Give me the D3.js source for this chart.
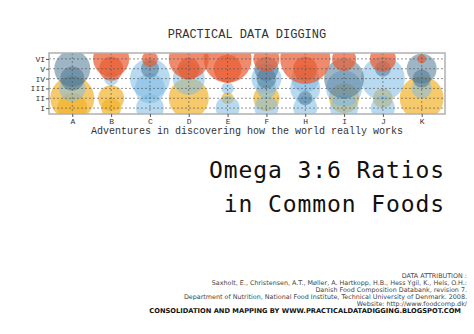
<!DOCTYPE html>
<html><head><meta charset="utf-8">
<script src="https://cdn.jsdelivr.net/npm/d3@7"></script>
<style>
html,body{margin:0;padding:0;background:#fff;}
svg{display:block;}
</style></head>
<body>
<script>
// ---- data ----
const categories = ["A","B","C","D","E","F","H","I","J","K"];
const levels = ["I","II","III","IV","V","VI"];
// [category, level, value]
const orangeSeries = [["B","VI",52],["B","V",23],["C","VI",10],["D","VI",64],["D","V",19],["E","VI",92],["E","V",31],["F","VI",27],["H","VI",100],["H","V",23],["I","VI",23],["J","VI",27],["K","VI",3]];
const slateSeries = [["A","V",52],["A","IV",23],["C","V",13],["F","V",23],["F","IV",16],["H","II",8],["I","IV",64],["J","V",10],["K","V",36],["K","IV",13]];
const skySeries = [["A","III",27],["B","IV",8],["C","IV",64],["C","III",36],["C","I",31],["D","IV",41],["E","III",6],["E","I",23],["F","IV",36],["F","III",16],["F","I",23],["H","IV",31],["H","III",36],["H","I",23],["I","III",52],["I","I",31],["J","IV",77],["J","I",23],["K","III",16]];
const yellowSeries = [["A","II",77],["A","I",36],["B","II",27],["B","I",16],["D","II",64],["E","II",6],["F","II",27],["I","II",36],["J","II",16],["K","II",77]];
const titleTop = "PRACTICAL DATA DIGGING";
const subtitle = "Adventures in discovering how the world really works";
const bigTitle = ["Omega 3:6 Ratios","in Common Foods"];
const attribution = ["DATA ATTRIBUTION :",
 "Saxholt, E., Christensen, A.T., Møller, A. Hartkopp, H.B., Hess Ygil, K., Hels, O.H.:",
 "Danish Food Composition Databank, revision 7.",
 "Department of Nutrition, National Food Institute, Technical University of Denmark. 2008.",
 "Website: http://www.foodcomp.dk/"];
const credit = "CONSOLIDATION AND MAPPING BY WWW.PRACTICALDATADIGGING.BLOGSPOT.COM";

// ---- chart ----
const W=474,H=334;
const svg=d3.select("body").append("svg").attr("width",W).attr("height",H);
const plot={x0:49,x1:445,y0:53,y1:114};
const x=d3.scalePoint().domain(categories).range([plot.x0,plot.x1]).padding(0.6);
const y=d3.scalePoint().domain(levels).range([plot.y1,plot.y0]).padding(0.6);
const r=d3.scaleSqrt().domain([0,100]).range([0,25]);

svg.append("defs").append("clipPath").attr("id","clip")
 .append("rect").attr("x",plot.x0).attr("y",plot.y0).attr("width",plot.x1-plot.x0).attr("height",plot.y1-plot.y0);

const g=svg.append("g").attr("clip-path","url(#clip)");
const groups=[
 {data:yellowSeries,color:"#f2b431",op:0.72},
 {data:skySeries,color:"#7dbbe6",op:0.55},
 {data:slateSeries,color:"#4e7896",op:0.55},
 {data:orangeSeries,color:"#e95d33",op:0.72}
];
groups.forEach(gr=>{
 g.append("g").selectAll("circle").data(gr.data).join("circle")
  .attr("cx",d=>x(d[0])).attr("cy",d=>y(d[1])).attr("r",d=>r(d[2]))
  .attr("fill",gr.color).attr("fill-opacity",gr.op);
});

// grid
const grid=svg.append("g").attr("stroke","#555").attr("stroke-width",0.8).attr("stroke-dasharray","2,2").attr("opacity",0.8);
levels.forEach(l=>grid.append("line").attr("x1",plot.x0).attr("x2",plot.x1).attr("y1",y(l)).attr("y2",y(l)));
categories.forEach(c=>grid.append("line").attr("y1",plot.y0).attr("y2",plot.y1).attr("x1",x(c)).attr("x2",x(c)));

svg.append("rect").attr("x",plot.x0).attr("y",plot.y0).attr("width",plot.x1-plot.x0).attr("height",plot.y1-plot.y0)
 .attr("fill","none").attr("stroke","#b0b0b0").attr("stroke-width",1.5);

// axes
const xAxis=svg.append("g").attr("transform",`translate(0,${plot.y1})`)
 .call(d3.axisBottom(x).tickSize(3).tickPadding(1));
const yAxis=svg.append("g").attr("transform",`translate(${plot.x0},0)`)
 .call(d3.axisLeft(y).tickSize(3).tickPadding(1));
[xAxis,yAxis].forEach(a=>{
 a.select(".domain").remove();
 a.selectAll("line").attr("stroke","#555");
 a.selectAll("text").attr("font-family","'Liberation Mono', monospace").attr("font-size",8).attr("fill","#333");
});

svg.append("text").attr("x",(plot.x0+plot.x1)/2).attr("y",38).attr("text-anchor","middle")
 .attr("font-family","'Liberation Mono', monospace").attr("font-size",12).attr("fill","#333").text(titleTop);
svg.append("text").attr("x",(plot.x0+plot.x1)/2).attr("y",134).attr("text-anchor","middle")
 .attr("font-family","'Liberation Mono', monospace").attr("font-size",10).attr("fill","#333").text(subtitle);

bigTitle.forEach((t,i)=>{
 svg.append("text").attr("x",445).attr("y",178+i*34).attr("text-anchor","end")
  .attr("font-family","'DejaVu Sans Mono', monospace").attr("font-size",23).attr("letter-spacing",0.9)
  .attr("fill","#111").text(t);
});

attribution.forEach((t,i)=>{
 svg.append("text").attr("x",467).attr("y",278+i*7).attr("text-anchor","end")
  .attr("font-family","'DejaVu Sans',sans-serif").attr("font-size",6.4)
  .attr("fill","#444").text(t);
});
svg.append("text").attr("x",461).attr("y",313).attr("text-anchor","end")
 .attr("font-family","'DejaVu Sans',sans-serif").attr("font-weight","bold").attr("font-size",6.7)
 .attr("fill","#111").text(credit);
</script>
</body></html>
